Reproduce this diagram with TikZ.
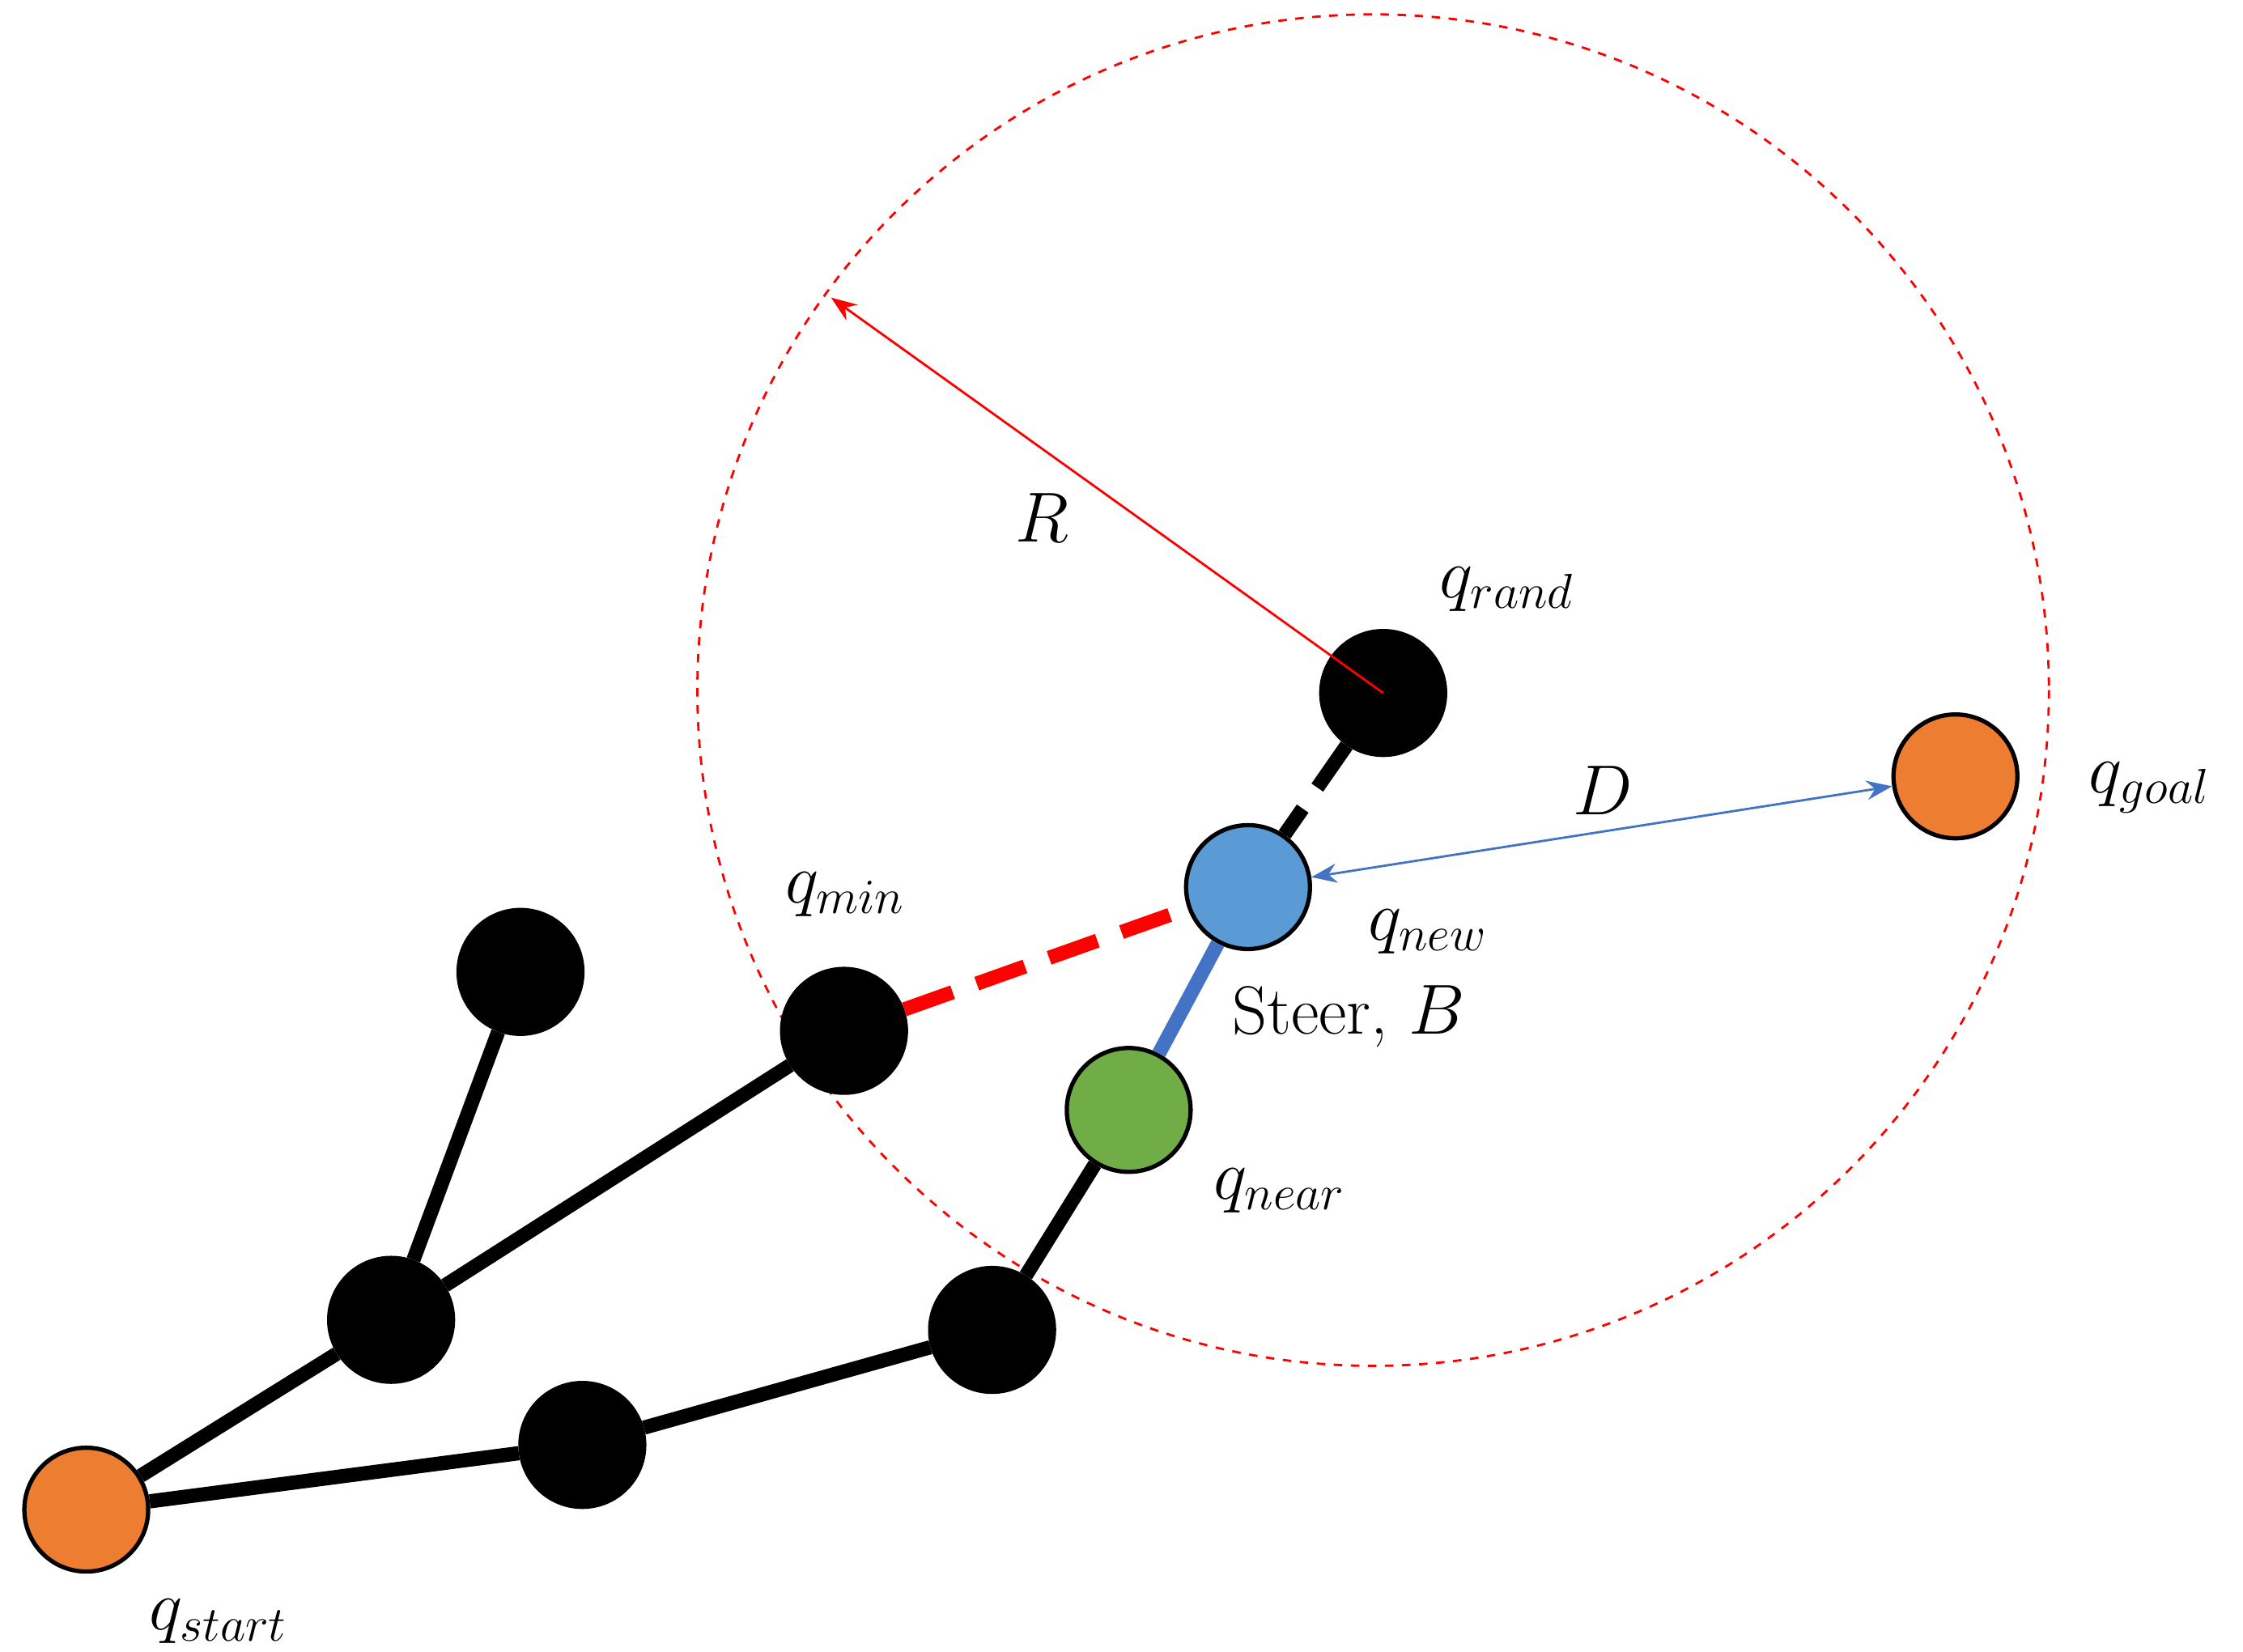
\documentclass[tikz,border=0pt]{standalone}
\usetikzlibrary{arrows.meta}
\begin{document}
\begin{tikzpicture}[x=0.017763cm,y=-0.017763cm,
  vtx/.style={circle,draw=black,line width=1.5pt,minimum size=1.53cm,inner sep=0pt,fill=black},
  edge/.style={line width=5pt,black},
  lbl/.style={font=\fontsize{24}{28}\selectfont}]
\useasboundingbox (0,0) rectangle (1560,1149);
\definecolor{org}{HTML}{ED7D31}\definecolor{blu}{HTML}{5B9BD5}\definecolor{grn}{HTML}{70AD47}\definecolor{sblu}{HTML}{4472C4}
\draw[red,dashed,line width=0.8pt] (955,480) circle (470);
\node[vtx] (rand) at (962,482) {};
\node[vtx,fill=blu] (new) at (868,617) {};
\node[vtx,fill=org] (goal) at (1360,540) {};
\node[vtx] (min) at (587,717) {};
\node[vtx,fill=grn] (near) at (785,772) {};
\node[vtx] (a) at (362,676) {};
\node[vtx] (b) at (272,918) {};
\node[vtx] (c) at (405,1005) {};
\node[vtx] (d) at (690,925) {};
\node[vtx,fill=org] (start) at (60,1050) {};
\coordinate (rend) at (578,207);
\draw[edge] (start)--(b); \draw[edge] (b)--(a); \draw[edge] (b)--(min);
\draw[edge] (start)--(c); \draw[edge] (c)--(d); \draw[edge] (d)--(near);
\draw[edge,dash pattern=on 18pt off 9pt] (rand)--(new);
\draw[edge,red,dash pattern=on 18pt off 9pt] (min)--(new);
\draw[edge,sblu] (near)--(new);
\draw[red,line width=0.8pt,-{Stealth[length=9pt]}] (rand.center)--(rend);
\draw[sblu,line width=0.8pt,{Stealth[length=9pt]}-{Stealth[length=9pt]}] (new)--(goal);
\node[lbl] at (725,360) {$R$};
\node[lbl] at (1115,550) {$D$};
\node[lbl] at (1048,410) {$q_{rand}$};
\node[lbl] at (1495,548) {$q_{goal}$};
\node[lbl] at (993,648) {$q_{new}$};
\node[lbl] at (938,707) {Steer, $B$};
\node[lbl] at (588,622) {$q_{min}$};
\node[lbl] at (890,828) {$q_{near}$};
\node[lbl] at (152,1128) {$q_{start}$};
\end{tikzpicture}
\end{document}
